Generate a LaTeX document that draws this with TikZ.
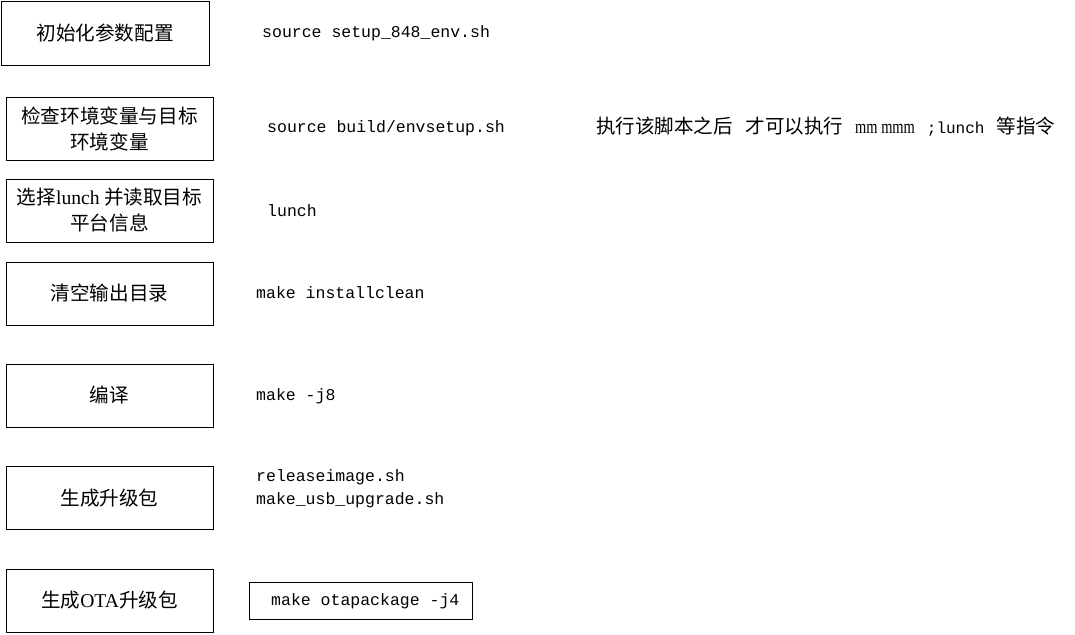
\documentclass[tikz,border=0pt]{standalone}
\usepackage{fontspec}
\setmainfont{Liberation Serif}
\setmonofont{Liberation Mono}
\newfontfamily\cjk{Noto Sans CJK SC}
\newfontfamily\narrowserif[FakeStretch=0.74]{Liberation Serif}
\usetikzlibrary{positioning}

\tikzset{
    stagebox/.style={draw, line width=0.8pt, minimum width=207pt, minimum height=63pt,
        align=center, inner sep=2pt, font=\cjk\fontsize{19.6}{26}\selectfont},
    cmd/.style={anchor=west, inner sep=0pt, font=\ttfamily\fontsize{16.5}{23}\selectfont, align=left},
    note/.style={anchor=west, inner sep=0pt, font=\cjk\fontsize{19.5}{23}\selectfont}
}

\begin{document}
\begin{tikzpicture}[x=1pt,y=-1pt]
    \useasboundingbox (0,0) rectangle (1075,634);

    % steps on the left
    \node [stagebox, minimum width=208pt, minimum height=64pt] (init) at (105,33) {初始化参数配置};
    \node [stagebox] (check) at (109.5,128.5) {检查环境变量与目标\\环境变量};
    \node [stagebox] (lunch) at (109.5,210.5) {选择{\rmfamily lunch} 并读取目标\\平台信息};
    \node [stagebox] (clean) at (109.5,293.5) {清空输出目录};
    \node [stagebox] (build) at (109.5,395.5) {编译};
    \node [stagebox] (pkg) at (109.5,498) {生成升级包};
    \node [stagebox] (ota) at (109.5,600.5) {生成{\rmfamily OTA}升级包};

    % commands
    \node [cmd] (c1) at (262,33) {source setup\_848\_env.sh};
    \node [cmd] (c2) at (267,128) {source build/envsetup.sh};
    \node [cmd] (c3) at (267,211) {lunch};
    \node [cmd] (c4) at (256,293) {make installclean};
    \node [cmd] (c5) at (256,396) {make -j8};
    \node [cmd] (c6) at (256,488.5) {releaseimage.sh\\make\_usb\_upgrade.sh};
    \node [draw, line width=0.8pt, minimum width=223pt, minimum height=37pt, inner sep=0pt] (c7box) at (360.5,600.5) {};
    \node [cmd] (c7) at (271,601) {make otapackage -j4};

    \node [note] (hint) at (596,127) {执行该脚本之后\hspace{13pt}才可以执行\hspace{12pt}{\narrowserif\fontsize{19.5}{20}\selectfont mm mmm}\hspace{12pt}{\ttfamily\fontsize{16}{20}\selectfont ;lunch}\hspace{12pt}等指令};
\end{tikzpicture}
\end{document}
